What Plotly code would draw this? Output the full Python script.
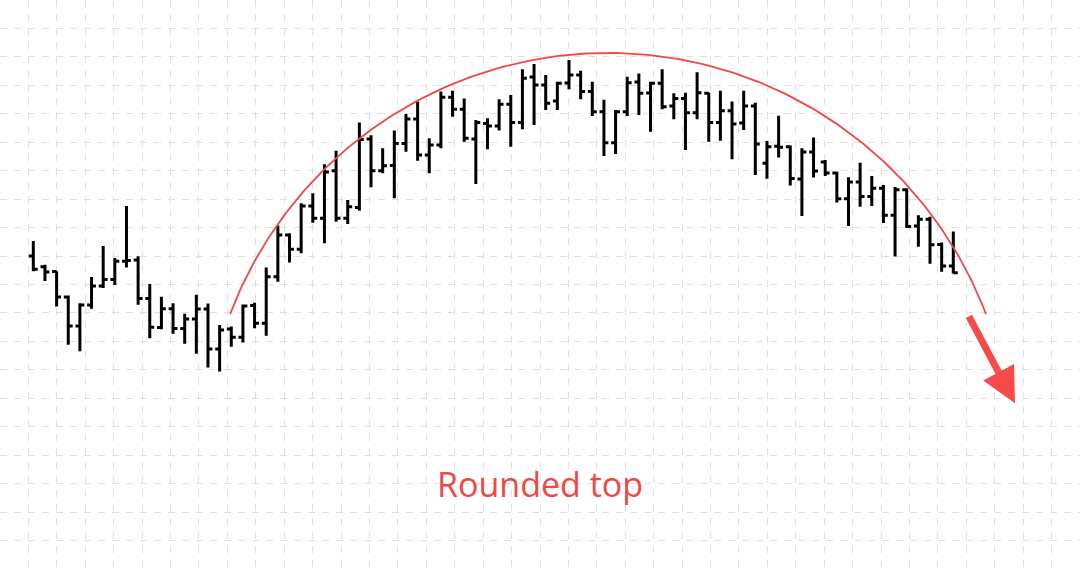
import numpy as np
import plotly.graph_objects as go

# ---- data (price units) ----
bar_index = list(range(80))
open_ = [110.0, 106.2, 104.6, 95.6, 85.4, 92.8, 99.5, 101.8, 108.2, 108.6,
         95.1, 84.9, 91.5, 84.5, 87.9, 91.4, 77.3, 84.4, 81.5, 92.6,
         86.4, 102.7, 117.4, 112.4, 127.6, 123.3, 140.0, 123.3, 127.1, 151.1,
         140.0, 141.8, 149.6, 158.2, 145.5, 149.0, 165.8, 161.6, 151.1, 156.6,
         155.7, 163.4, 156.9, 172.9, 170.1, 164.5, 170.8, 173.6, 167.8, 160.7,
         149.8, 160.7, 171.2, 167.3, 170.7, 162.7, 165.4, 160.4, 167.2, 156.9,
         161.1, 156.8, 162.7, 142.6, 148.6, 148.4, 137.1, 146.6, 143.1, 139.2,
         130.1, 136.0, 130.9, 133.8, 124.3, 133.3, 120.6, 122.9, 114.1, 106.5]
high = [115.3, 106.9, 104.7, 96.1, 93.4, 102.6, 113.5, 109.3, 127.6, 109.9,
        100.2, 95.7, 93.4, 89.7, 96.4, 93.3, 85.8, 85.2, 93.0, 93.6,
        106.0, 120.7, 118.0, 128.6, 132.1, 142.3, 147.0, 129.7, 156.9, 152.5,
        147.9, 154.1, 159.9, 164.3, 151.4, 167.8, 168.1, 165.4, 157.8, 158.4,
        165.1, 166.6, 175.7, 177.5, 173.6, 171.3, 178.9, 175.1, 171.3, 164.9,
        161.3, 173.0, 174.2, 171.3, 175.7, 167.2, 167.4, 174.6, 167.4, 168.1,
        164.3, 168.1, 163.9, 150.4, 159.3, 148.9, 147.9, 151.7, 143.8, 139.6,
        137.7, 142.8, 138.1, 135.0, 134.3, 133.7, 124.3, 123.8, 114.8, 118.6]
low = [104.7, 101.2, 92.3, 78.8, 76.5, 91.5, 98.8, 99.8, 106.0, 92.9,
       81.1, 84.3, 82.7, 79.2, 75.7, 70.8, 69.4, 78.1, 79.6, 84.6,
       82.0, 101.0, 107.7, 111.0, 121.7, 114.5, 122.1, 121.3, 125.9, 134.2,
       139.1, 130.3, 146.7, 143.5, 139.1, 147.9, 159.0, 150.2, 135.3, 147.5,
       154.1, 148.4, 154.6, 156.1, 161.3, 161.3, 168.6, 165.1, 159.2, 145.2,
       145.9, 159.2, 159.6, 153.7, 161.6, 158.1, 147.3, 158.1, 150.2, 150.5,
       144.0, 154.3, 138.5, 137.2, 144.6, 134.8, 124.1, 137.6, 138.1, 128.8,
       120.6, 127.3, 127.6, 121.6, 109.8, 119.9, 113.3, 107.3, 104.5, 103.9]
close = [105.4, 104.4, 95.6, 85.4, 92.8, 99.5, 101.8, 108.2, 108.4, 95.1,
         85.0, 91.5, 84.5, 87.9, 91.4, 77.3, 84.0, 81.5, 92.4, 86.4,
         102.7, 117.4, 112.4, 127.6, 123.3, 139.5, 123.3, 127.3, 151.0, 140.0,
         141.7, 149.6, 158.2, 145.5, 149.0, 165.8, 161.6, 151.4, 156.9, 155.7,
         163.4, 156.9, 172.5, 170.1, 163.7, 170.7, 173.6, 167.8, 160.7, 149.8,
         160.7, 170.9, 167.2, 170.7, 162.5, 165.4, 160.4, 167.4, 156.9, 161.1,
         156.4, 162.7, 149.4, 148.4, 148.2, 137.3, 146.6, 139.9, 139.2, 130.1,
         136.0, 130.9, 133.8, 124.3, 133.3, 120.4, 122.9, 114.0, 106.5, 104.1]

# rounded-top guide arc (ellipse in data units, circle on screen)
arc_center = (49.35, 39.4)
arc_radius = (34.69, 142.0)
arc_angles = (159.3, 20.7)

# arrow (tail -> tip) and label
arrow_tail = (80.27, 89.3)
arrow_tip = (84.30, 58.3)
label_text = "Rounded top"
label_y = 30.0

RED = "#ef4848"

fig = go.Figure()
fig.add_trace(go.Ohlc(
    x=bar_index, open=open_, high=high, low=low, close=close,
    increasing=dict(line=dict(color="black", width=3)),
    decreasing=dict(line=dict(color="black", width=3)),
    tickwidth=0.38, hoverinfo="skip", showlegend=False,
))

theta = np.radians(np.linspace(arc_angles[0], arc_angles[1], 200))
fig.add_trace(go.Scatter(
    x=arc_center[0] + arc_radius[0] * np.cos(theta),
    y=arc_center[1] + arc_radius[1] * np.sin(theta),
    mode="lines", line=dict(color=RED, width=1.8),
    hoverinfo="skip", showlegend=False,
))

fig.add_annotation(
    x=arrow_tip[0], y=arrow_tip[1], ax=arrow_tail[0], ay=arrow_tail[1],
    xref="x", yref="y", axref="x", ayref="y", text="",
    showarrow=True, arrowhead=2, arrowsize=1.0, arrowwidth=7,
    arrowcolor="#f54b4b", standoff=0,
)
fig.add_annotation(
    x=0.5, xref="paper", y=label_y, yref="y", text=label_text,
    showarrow=False, xanchor="center", yanchor="middle",
    font=dict(family="Open Sans", size=34, color=RED),
)

grid = dict(showgrid=True, gridcolor="#e0e0e0", gridwidth=1, griddash="7px,7px",
            zeroline=False, showticklabels=False, ticks="", showline=False)
fig.update_layout(
    width=1080, height=569, margin=dict(l=0, r=0, t=0, b=0),
    paper_bgcolor="white", plot_bgcolor="white", hovermode=False,
    xaxis=dict(range=[-2.86, 89.88], tick0=-2.86, dtick=2.4406,
               rangeslider=dict(visible=False), **grid),
    yaxis=dict(range=[0, 200], tick0=0, dtick=10, **grid),
)
fig.write_html(
    "out.html",
    config={"displayModeBar": False, "staticPlot": True},
    post_script="document.body.style.margin='0px';document.body.style.overflow='hidden';",
)
